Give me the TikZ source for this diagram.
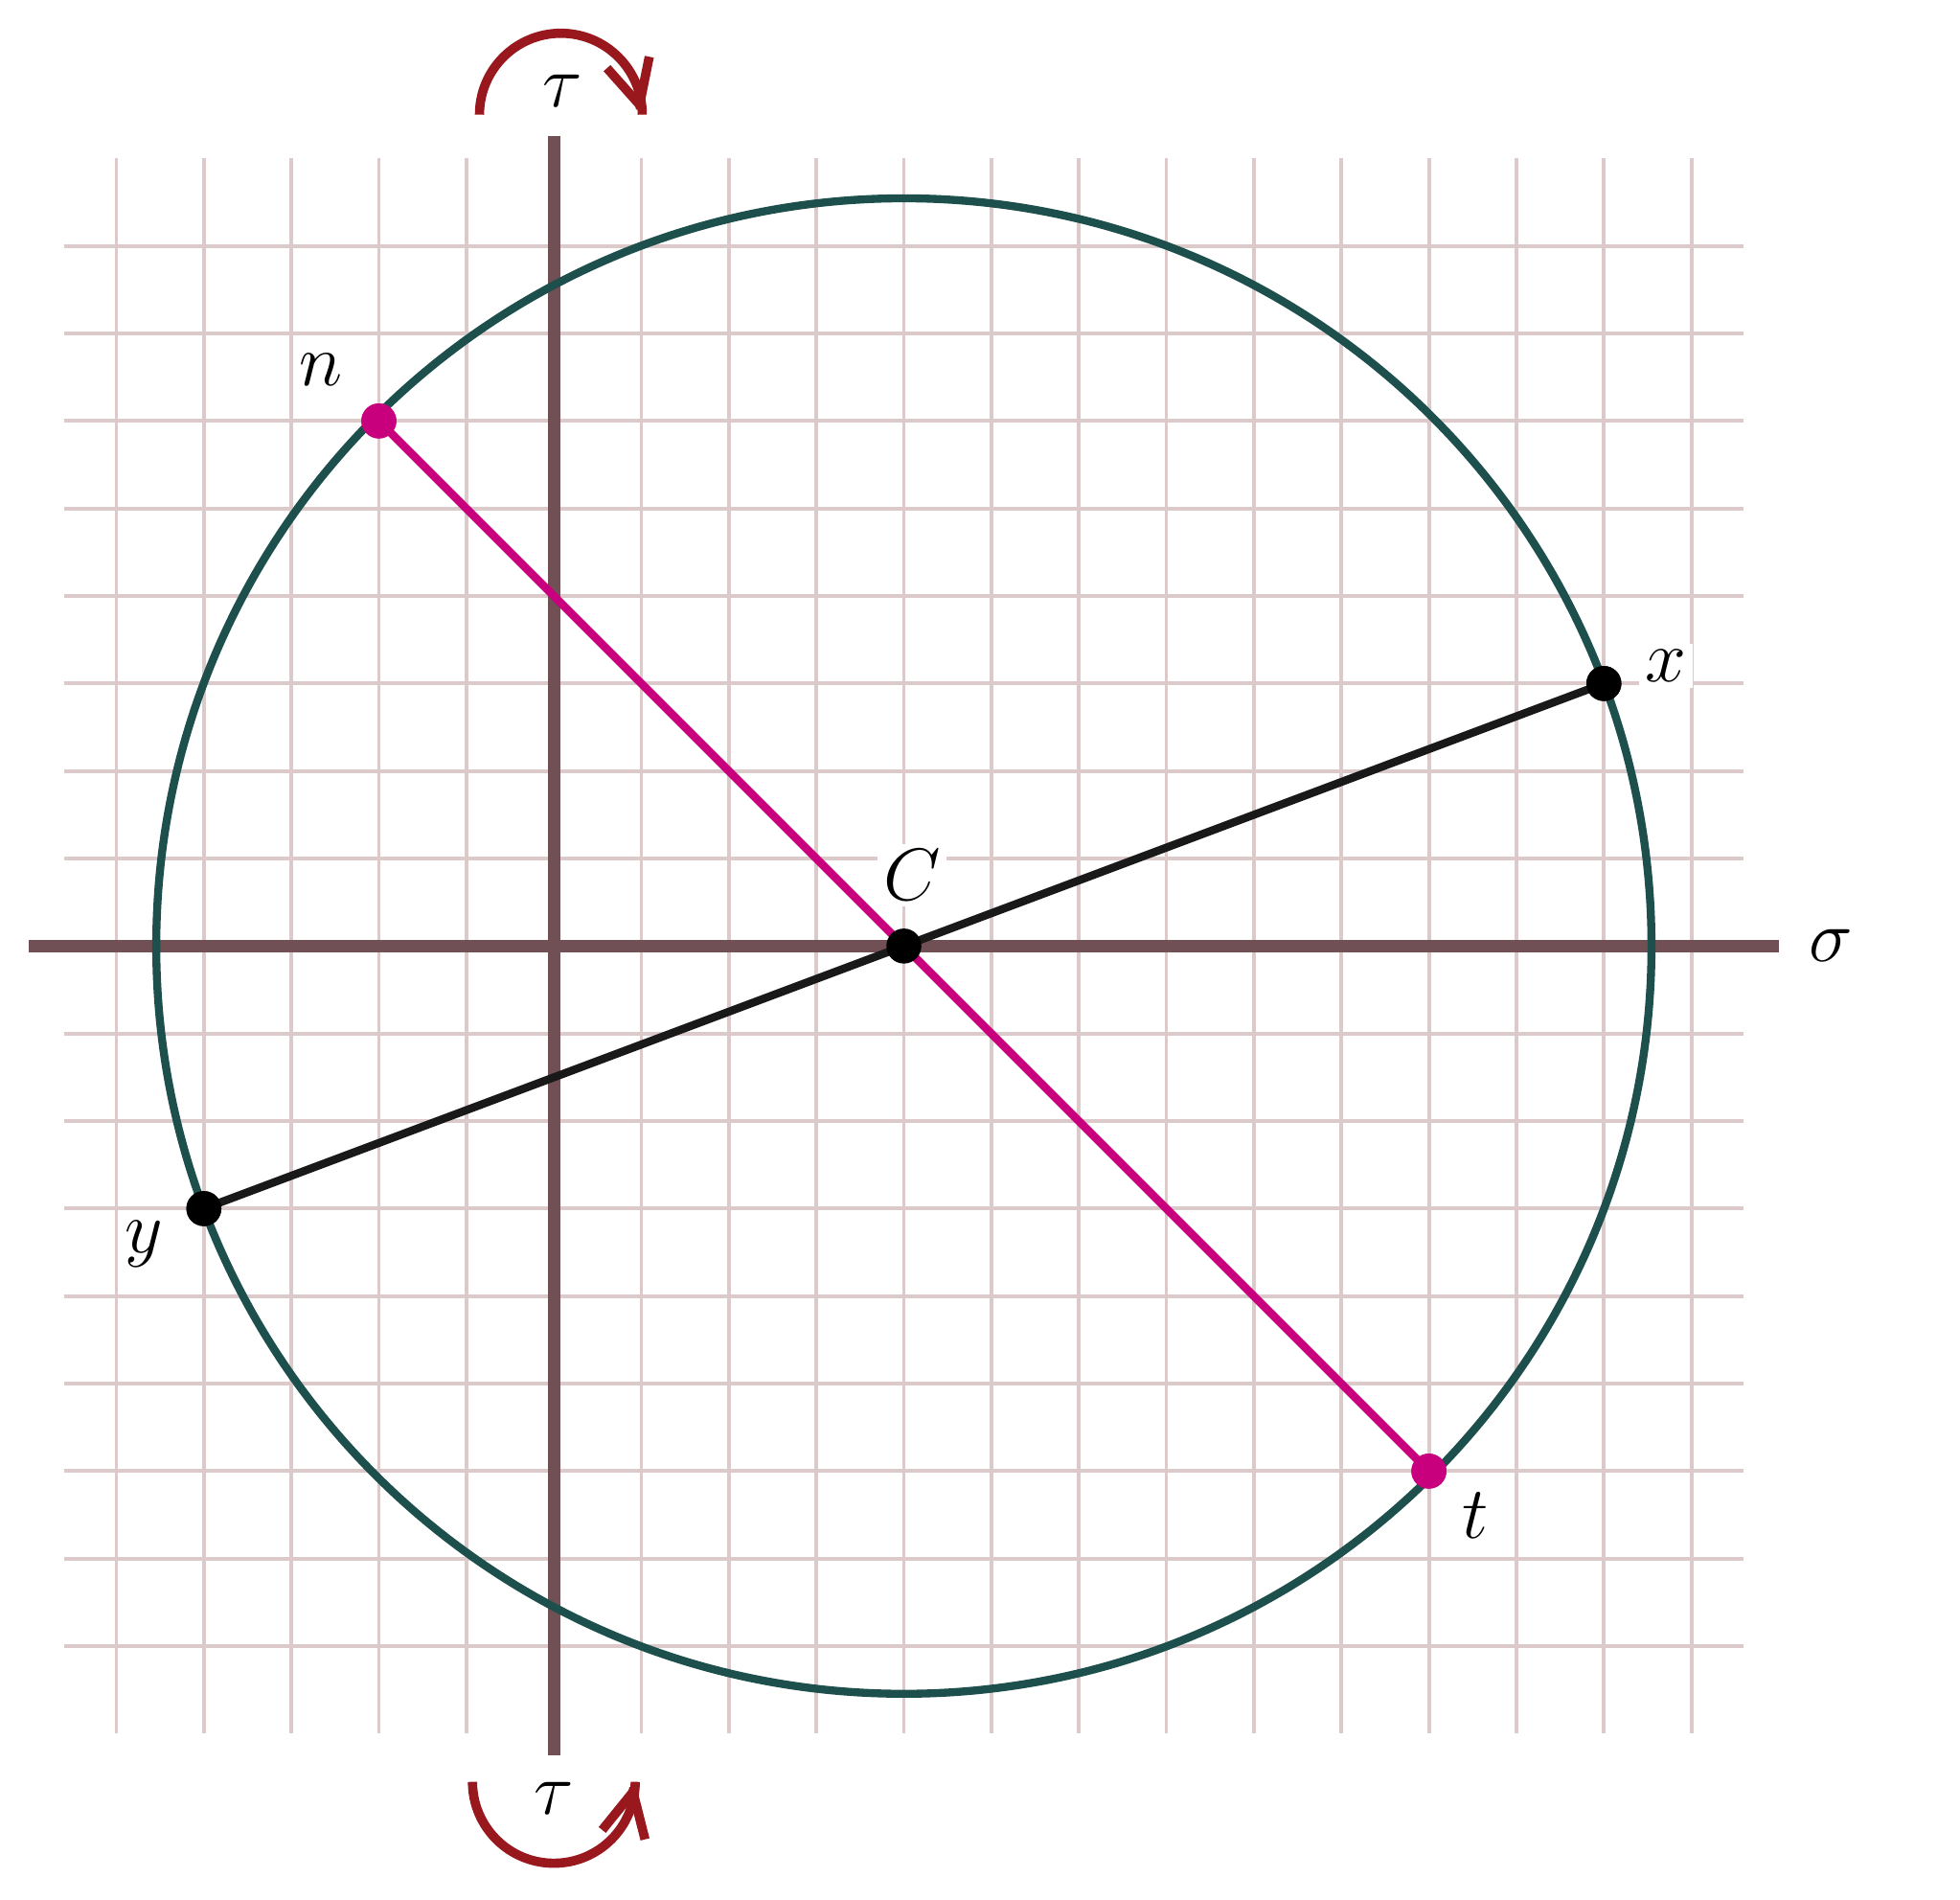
\documentclass[tikz,border=0pt]{standalone}
\usetikzlibrary{arrows.meta}
\definecolor{gridc}{RGB}{220,202,202}
\definecolor{axisc}{RGB}{112,80,84}
\definecolor{circc}{RGB}{29,79,77}
\definecolor{magc}{RGB}{200,0,125}
\definecolor{arrc}{RGB}{152,24,30}
\begin{document}
\begin{tikzpicture}[x=5mm,y=5mm,
    dot/.style={circle,fill=#1,inner sep=0pt,minimum size=2mm},
    lbl/.style={fill=white,inner sep=1pt,font=\fontsize{13}{15}\selectfont},
    turn/.style={arrc,line width=1.5pt},
    tip/.style={turn,-{Straight Barb[length=2.5mm,width=2.5mm]}}]
    \useasboundingbox (-10.33,-10.89) rectangle (12.07,10.81);
    %% grid
    \foreach \y in {-8,...,8}
        \draw[gridc,line width=0.6pt] (-9.6,\y) -- (9.6,\y);
    \foreach \x in {-9,...,9}
        \draw[gridc,line width=0.6pt] (\x,-9) -- (\x,9);
    %% axes
    \draw[axisc,line width=2pt] (-10,0) -- (10,0);
    \draw[axisc,line width=2pt] (-4,-9.25) -- (-4,9.25);
    \node[lbl,anchor=center] (sig) at (10.6,0) {$\sigma$};
    \node[lbl,anchor=center] (tautop) at (-3.9,9.77) {$\tau$};
    \node[lbl,anchor=center] (taubot) at (-4,-9.74) {$\tau$};
    %% turning arrows
    \coordinate (ta) at (-4.85,9.5);
    \coordinate (tb) at (-4.93,-9.55);
    \draw[turn] (ta) arc[start angle=180,end angle=0,radius=0.93] coordinate (tae);
    \draw[turn] (tb) arc[start angle=180,end angle=360,radius=0.93] coordinate (tbe);
    \draw[tip] ([shift={(-0.27pt,1pt)}]tae) -- (tae);
    \draw[tip] ([shift={(-0.22pt,-1pt)}]tbe) -- (tbe);
    %% Mohr circle
    \coordinate (C) at (0,0);
    \draw[circc,line width=1.3pt] (C) circle[radius=8.544];
    %% points
    \node[dot=black] (x) at (8,3) {};
    \node[dot=black] (y) at (-8,-3) {};
    \node[dot=magc] (n) at (-6,6) {};
    \node[dot=magc] (t) at (6,-6) {};
    \draw[magc,line width=1.3pt] (n.center) -- (t.center);
    \draw[black!90,line width=1.3pt] (y.center) -- (x.center);
    \node[dot=black] (c) at (C) {};
    \node[dot=black] at (x) {};
    \node[dot=black] at (y) {};
    \node[dot=magc] at (n) {};
    \node[dot=magc] at (t) {};
    %% labels
    \node[lbl,anchor=center] at (0.09,0.81) {$C$};
    \node[lbl,anchor=center] at (8.71,3.2) {$x$};
    \node[lbl,anchor=center] at (-8.69,-3.41) {$y$};
    \node[lbl,anchor=center] at (6.53,-6.51) {$t$};
    \node[lbl,anchor=center] at (-6.66,6.58) {$n$};
\end{tikzpicture}
\end{document}
